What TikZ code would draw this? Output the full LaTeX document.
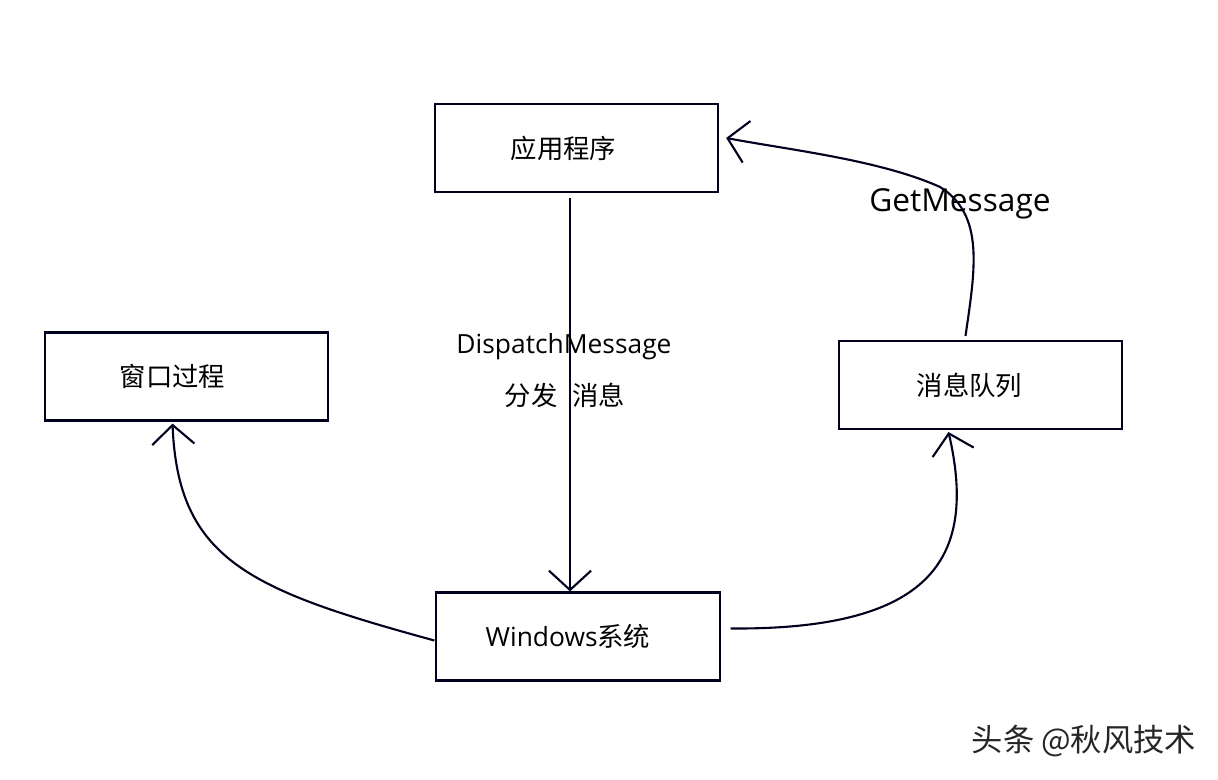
\documentclass[tikz,border=0pt]{standalone}
\usepackage{fontspec}
\setmainfont{Open Sans}
\newfontfamily\cjk{Noto Sans CJK SC}
\usetikzlibrary{arrows.meta,calc}
\begin{document}
\begin{tikzpicture}[x=0.01cm,y=-0.01cm,
  ln/.style={draw=black!88!blue, line width=0.6pt},
  box/.style={ln, minimum width=2.83cm, minimum height=0.88cm, inner sep=0pt, font=\fontsize{7.5pt}{9pt}\selectfont},
  arr/.style={ln, -{Straight Barb[length=5.5pt,width=12pt,line width=0.6pt]}},
  lbl/.style={inner sep=0pt, font=\fontsize{7.5pt}{9pt}\selectfont}]
\useasboundingbox (0,0) rectangle (1218,780);
\fill[white] (0,0) rectangle (1218,780);
\node[box] (app) at (576.5,148) {\hspace{-0.26cm}\cjk 应用程序};
\node[box] (wp) at (186.5,376.5) {\hspace{-0.28cm}\cjk 窗口过程};
\node[box] (mq) at (980.5,385) {\hspace{-0.22cm}\cjk 消息队列};
\node[box] (win) at (578,636.5) {\hspace{-0.2cm}Windows{\cjk 系统}};
\coordinate (dx) at (570,0);
\draw[arr, shorten <=1.4pt] (app.south -| dx) -- (win.north -| dx);
\node[lbl] (dm) at (564,347) {DispatchMessage};
\node[lbl] (ff) at (565,395) {\cjk 分发\hspace{0.15cm}消息};
\draw[arr] ($(win.west)+(-1,4)$) .. controls (250,590) and (178,560) .. ($(wp.south)+(-14,2)$);
\draw[arr] ($(win.east)+(10,-8)$) .. controls (930,630) and (978,560) .. ($(mq.south)+(-32,2)$);
\draw[arr] ($(mq.north)+(-15,-4)$) .. controls (975,270) and (985,215) .. (940,187) .. controls (880,160) and (790,150) .. ($(app.east)+(7,-10)$);
\node[lbl, font=\fontsize{9pt}{11pt}\selectfont] (gm) at (960,204) {GetMessage};
\node[lbl, font=\fontsize{8.9pt}{11pt}\selectfont\cjk, text=black!85] (wm) at (1084,741) {头条 @秋风技术};
\end{tikzpicture}
\end{document}
